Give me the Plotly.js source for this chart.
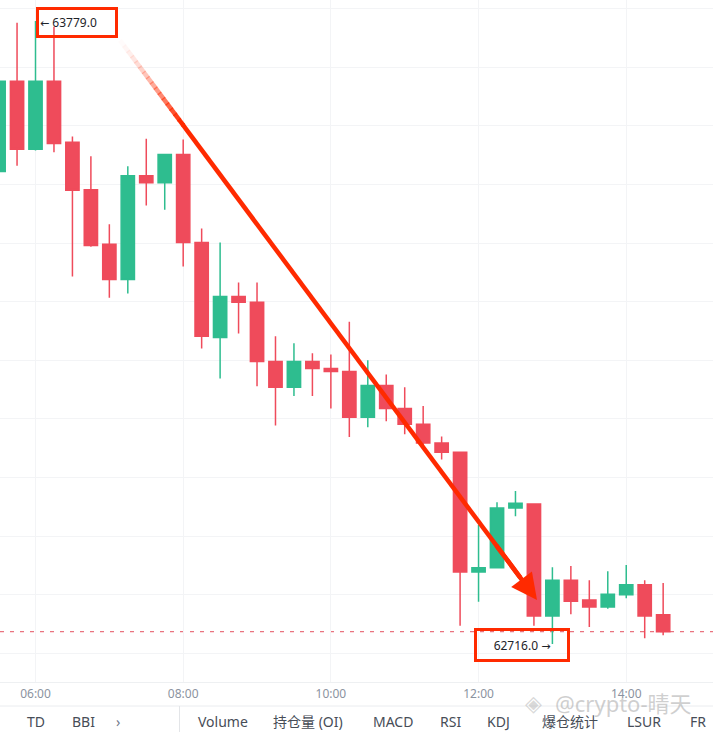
<!DOCTYPE html>
<html><head><meta charset="utf-8">
<script src="https://cdn.plot.ly/plotly-3.0.1.min.js"></script>
<style>html,body{margin:0;padding:0;background:#fff;overflow:hidden}#chart{width:713px;height:732px;}</style>
</head><body><div id="chart"></div>
<script>
// ---------------- data ----------------
const DAY = '2024-05-01 ';
const times = ['05:30','05:45','06:00','06:15','06:30','06:45','07:00','07:15','07:30','07:45',
  '08:00','08:15','08:30','08:45','09:00','09:15','09:30','09:45','10:00','10:15',
  '10:30','10:45','11:00','11:15','11:30','11:45','12:00','12:15','12:30','12:45',
  '13:00','13:15','13:30','13:45','14:00','14:15','14:30'];
const open  = [63522,63676,63560,63676,63572,63491,63398,63338,63515,63503,
  63551,63401,63239,63309,63299,63198,63154,63198,63186,63181,
  63103,63157,63118,63091,63059,63043,62839,62846,62948,62955,
  62764,62825,62791,62779,62800,62817,62766];
const high  = [63690,63776,63779,63769,63582,63548,63432,63531,63578,63551,
  63577,63425,63401,63333,63333,63241,63229,63212,63210,63266,
  63200,63176,63154,63122,63070,63043,62919,62958,62977,62955,
  62847,62849,62825,62840,62851,62825,62820];
const low   = [63510,63532,63558,63555,63343,63394,63307,63314,63464,63457,
  63360,63220,63169,63246,63156,63089,63139,63139,63118,63069,
  63086,63096,63074,63050,63031,62747,62788,62846,62934,62747,
  62716,62767,62745,62776,62794,62726,62731];
const close = [63676,63560,63676,63570,63490,63396,63338,63515,63503,63551,
  63401,63241,63309,63299,63198,63154,63198,63186,63181,63103,
  63157,63118,63091,63059,63043,62839,62846,62948,62956,62764,
  62825,62789,62779,62801,62817,62764,62737];
const xTickLabels = ['06:00','08:00','10:00','12:00','14:00'];
const highLabelTime = '06:00', highLabelValue = 63779.0;
const lowLabelTime = '13:00', lowLabelValue = 62716.0;
const toolbarItems = ['TD','BBI','›','Volume','持仓量 (OI)','MACD','RSI','KDJ','爆仓统计','LSUR','FR'];
const watermarkText = '@crypto-晴天';

// ---------------- layout helpers ----------------
const W = 713, H = 732, BOTTOM = 50, PLOT_H = H - BOTTOM;
const UP = '#2ebd8f', DOWN = '#ef4b5b', MARK = '#ff2a00';
const toolbarPx = [35.7, 83, 118, 222.7, 308, 392.7, 450.7, 499, 570, 644, 698];
const pyPaper = p => (PLOT_H - p) / PLOT_H;
const pxPaper = p => p / W;
const toMs = s => Date.parse((DAY + s).replace(' ', 'T') + 'Z');
const pad = n => String(n).padStart(2, '0');
const msToStr = ms => { const d = new Date(ms); return d.getUTCFullYear()+'-'+pad(d.getUTCMonth()+1)+'-'+pad(d.getUTCDate())+' '+pad(d.getUTCHours())+':'+pad(d.getUTCMinutes())+':'+pad(d.getUTCSeconds()); };

const x = times.map(t => DAY + t);

const trace = {
  type: 'candlestick', x: x, open: open, high: high, low: low, close: close,
  increasing: {line: {color: UP, width: 1.5}, fillcolor: UP},
  decreasing: {line: {color: DOWN, width: 1.5}, fillcolor: DOWN},
  whiskerwidth: 0, hoverinfo: 'skip', showlegend: false
};

// trend arrow (decoration)
const arrowFrom = {t: '07:08:40', p: 63746};
const arrowTo = {t: '12:47:30', p: 62791};
const fadeEnd = 0.15;
const shapes = [];
const a0 = toMs(arrowFrom.t), a1 = toMs(arrowTo.t);
const lerpT = f => msToStr(a0 + (a1 - a0) * f);
const lerpP = f => arrowFrom.p + (arrowTo.p - arrowFrom.p) * f;
const NSEG = 16;
for (let i = 0; i < NSEG; i++) {
  const f0 = fadeEnd * i / NSEG, f1 = fadeEnd * (i + 1) / NSEG + 0.002;
  const op = Math.pow((i + 1) / NSEG, 1.6);
  shapes.push({type: 'line', xref: 'x', yref: 'y', x0: lerpT(f0), y0: lerpP(f0), x1: lerpT(f1), y1: lerpP(f1),
    line: {color: MARK, width: 4.5}, opacity: op, layer: 'above'});
}
shapes.push({type: 'line', xref: 'x', yref: 'y', x0: lerpT(fadeEnd), y0: lerpP(fadeEnd), x1: lerpT(0.96), y1: lerpP(0.96),
  line: {color: MARK, width: 4.5}, layer: 'above'});
// last price dashed line
shapes.push({type: 'line', xref: 'paper', x0: 0, x1: 1, yref: 'y', y0: close[close.length-1], y1: close[close.length-1],
  line: {color: '#e4505f', width: 1, dash: '4px,6px'}, layer: 'below'});
// toolbar separators
shapes.push({type: 'line', xref: 'paper', yref: 'paper', x0: 0, x1: 1, y0: pyPaper(706), y1: pyPaper(706), line: {color: '#eaecef', width: 1}});
shapes.push({type: 'line', xref: 'paper', yref: 'paper', x0: pxPaper(179.5), x1: pxPaper(179.5), y0: pyPaper(706), y1: pyPaper(732), line: {color: '#e3e5e8', width: 1}});

const ARROW_SPAN = '<span style="font-family:DejaVu Sans;font-size:11px">';
const annotations = [];
annotations.push({xref: 'x', yref: 'y', axref: 'x', ayref: 'y', x: DAY + arrowTo.t, y: arrowTo.p,
  ax: lerpT(0.9), ay: lerpP(0.9), text: '', showarrow: true, arrowhead: 2, arrowsize: 1.15,
  arrowwidth: 4.5, arrowcolor: MARK, standoff: 0, startstandoff: 0});
annotations.push({xref: 'x', yref: 'y', x: DAY + highLabelTime, y: highLabelValue, xanchor: 'left', yanchor: 'middle',
  yshift: -2, text: ARROW_SPAN + '←</span> ' + highLabelValue.toFixed(1), showarrow: false, align: 'left', width: 74, height: 23,
  bordercolor: MARK, borderwidth: 3, borderpad: 1, bgcolor: 'rgba(255,255,255,0)',
  font: {family: 'Noto Sans, sans-serif', size: 12, color: '#1e2329'}});
annotations.push({xref: 'x', yref: 'y', x: DAY + lowLabelTime, y: lowLabelValue, xanchor: 'right', yanchor: 'middle',
  xshift: 18, yshift: -1, text: lowLabelValue.toFixed(1) + ' ' + ARROW_SPAN + '→</span>', showarrow: false, align: 'center', width: 88, height: 26,
  bordercolor: MARK, borderwidth: 3, borderpad: 1, bgcolor: 'rgba(255,255,255,0)',
  font: {family: 'Noto Sans, sans-serif', size: 12, color: '#1e2329'}});
toolbarItems.forEach((t, i) => annotations.push({xref: 'paper', yref: 'paper', x: pxPaper(toolbarPx[i]), y: pyPaper(721.5),
  xanchor: 'center', yanchor: 'middle', text: t, showarrow: false,
  font: {family: 'Noto Sans, Noto Sans CJK SC, sans-serif', size: 14, color: i === 2 ? '#707a8a' : '#474d57'}}));
annotations.push({xref: 'paper', yref: 'paper', x: pxPaper(533), y: pyPaper(703), xanchor: 'center', yanchor: 'middle',
  text: '◈', showarrow: false, font: {family: 'DejaVu Sans', size: 22, color: 'rgba(170,170,170,0.45)'}});
annotations.push({xref: 'paper', yref: 'paper', x: pxPaper(553), y: pyPaper(703), xanchor: 'left', yanchor: 'middle',
  text: watermarkText, showarrow: false, font: {family: 'Noto Sans, Noto Sans CJK SC, sans-serif', size: 22, color: 'rgba(160,160,160,0.5)'}});

// axis ranges from pixel geometry
const pxPerMin = 18.46 / 15;
const t0 = toMs('06:00');
const xStart = msToStr(t0 - (35.5 / pxPerMin) * 60000);
const xEnd = msToStr(t0 + ((W - 35.5) / pxPerMin) * 60000);

const layout = {
  width: W, height: H, margin: {l: 0, r: 0, t: 0, b: BOTTOM, pad: 0},
  paper_bgcolor: '#ffffff', plot_bgcolor: '#ffffff', showlegend: false,
  boxgap: 0.28, boxgroupgap: 0, dragmode: false,
  xaxis: {type: 'date', range: [xStart, xEnd], rangeslider: {visible: false},
    tickvals: xTickLabels.map(t => DAY + t), ticktext: xTickLabels,
    showgrid: true, gridcolor: '#f3f4f6', gridwidth: 1, zeroline: false,
    showline: true, linecolor: '#eef0f2', linewidth: 1, ticks: '', ticklabelstandoff: 1,
    tickfont: {family: 'Noto Sans, sans-serif', size: 12, color: '#8b93a0'}, fixedrange: true},
  yaxis: {range: [62651.2, 63814.8], dtick: 100, tick0: 62700, showgrid: true, gridcolor: '#f3f4f6', gridwidth: 1,
    zeroline: false, showticklabels: false, ticks: '', fixedrange: true},
  shapes: shapes, annotations: annotations,
  font: {family: 'Noto Sans, sans-serif'}
};
Plotly.newPlot('chart', [trace], layout, {displayModeBar: false, staticPlot: true});
</script></body></html>
